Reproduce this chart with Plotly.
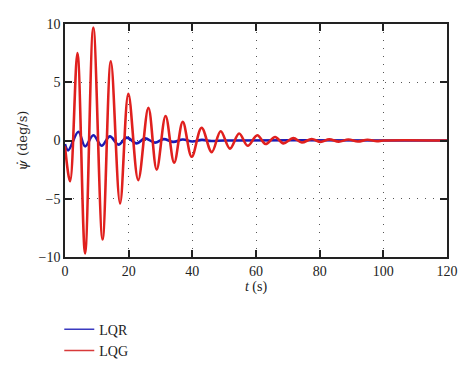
import plotly.graph_objects as go

# LQG extrema (t in s, psi-dot in deg/s)
lqg_t = [0, 1.6, 3.9, 6.3, 8.9, 11.8, 14.4, 17.3, 19.9, 23.0, 26.2, 28.8, 31.6, 34.3,
         37.0, 39.8, 42.9, 46.1, 48.9, 51.8, 54.7, 57.4, 60.4, 63.0, 66.0, 68.6, 71.7,
         74.4, 77.5, 80.3, 83.0, 86.0, 89.0, 92.0, 95.0, 98.0, 100.0, 120.0]
lqg_v = [-0.5, -3.5, 7.5, -9.7, 9.7, -8.5, 6.8, -5.4, 4.0, -3.4, 2.8, -2.5, 2.1, -1.9,
         1.6, -1.4, 1.1, -1.0, 0.8, -0.7, 0.6, -0.45, 0.45, -0.3, 0.3, -0.25, 0.2,
         -0.17, 0.13, -0.12, 0.1, -0.1, 0.08, -0.08, 0.06, -0.05, 0.0, 0.0]

# LQR extrema
lqr_t = [0, 1.0, 4.2, 6.3, 8.9, 11.5, 14.1, 16.8, 19.4, 22.5, 25.1, 28.3, 31.0, 34.0,
         37.0, 40.0, 43.0, 46.0, 50.0, 120.0]
lqr_v = [-0.3, -0.85, 0.75, -0.5, 0.45, -0.45, 0.35, -0.35, 0.25, -0.25, 0.18, -0.18,
         0.12, -0.12, 0.08, -0.08, 0.05, -0.04, 0.0, 0.0]

x_ticks = [0, 20, 40, 60, 80, 100, 120]
y_ticks = [-10, -5, 0, 5, 10]
y_tick_text = ["\u221210", "\u22125", "0", "5", "10"]

FONT = "Liberation Serif"

fig = go.Figure()
fig.add_trace(go.Scatter(x=lqr_t, y=lqr_v, mode="lines", line=dict(color="#1a1ab4", width=2.6, shape="spline", smoothing=1.0),
                         showlegend=False))
fig.add_trace(go.Scatter(x=lqg_t, y=lqg_v, mode="lines", line=dict(color="#e0201e", width=2.6, shape="spline", smoothing=1.0),
                         showlegend=False))
# legend entries
fig.add_trace(go.Scatter(x=[None], y=[None], mode="lines", name="LQR", line=dict(color="#3a3ac0", width=1.5)))
fig.add_trace(go.Scatter(x=[None], y=[None], mode="lines", name="LQG", line=dict(color="#d83a3a", width=1.5)))

axis_common = dict(
    showline=True, linecolor="#222", linewidth=1.5, mirror="ticks",
    ticks="inside", ticklen=7, tickwidth=1.5, tickcolor="#222",
    showgrid=True, gridcolor="#555", gridwidth=1, griddash="1px,7px",
    zeroline=False, tickfont=dict(family=FONT, size=14, color="#222"),
    automargin=False,
)

fig.update_xaxes(range=[0, 120], tickvals=x_ticks, **axis_common,
                 title=dict(text="<i>t</i> (s)", font=dict(family=FONT, size=14, color="#222"), standoff=4))
fig.update_yaxes(range=[-10, 10], tickvals=y_ticks, ticktext=y_tick_text, **axis_common,
                 title=dict(text="<i>\u03c8\u0307</i> (deg/s)", font=dict(family="DejaVu Serif", size=13, color="#222"), standoff=8))

fig.update_layout(
    width=466, height=364,
    margin=dict(l=57, r=27, t=16, b=115),
    plot_bgcolor="white", paper_bgcolor="white",
    font=dict(family=FONT, size=14, color="#222"),
    legend=dict(x=-0.015, y=0.16, xref="paper", yref="container", xanchor="left", yanchor="top",
                font=dict(family=FONT, size=14, color="#222"),
                bgcolor="rgba(0,0,0,0)", tracegroupgap=0, itemwidth=30),
)

fig.write_html("out.html")
